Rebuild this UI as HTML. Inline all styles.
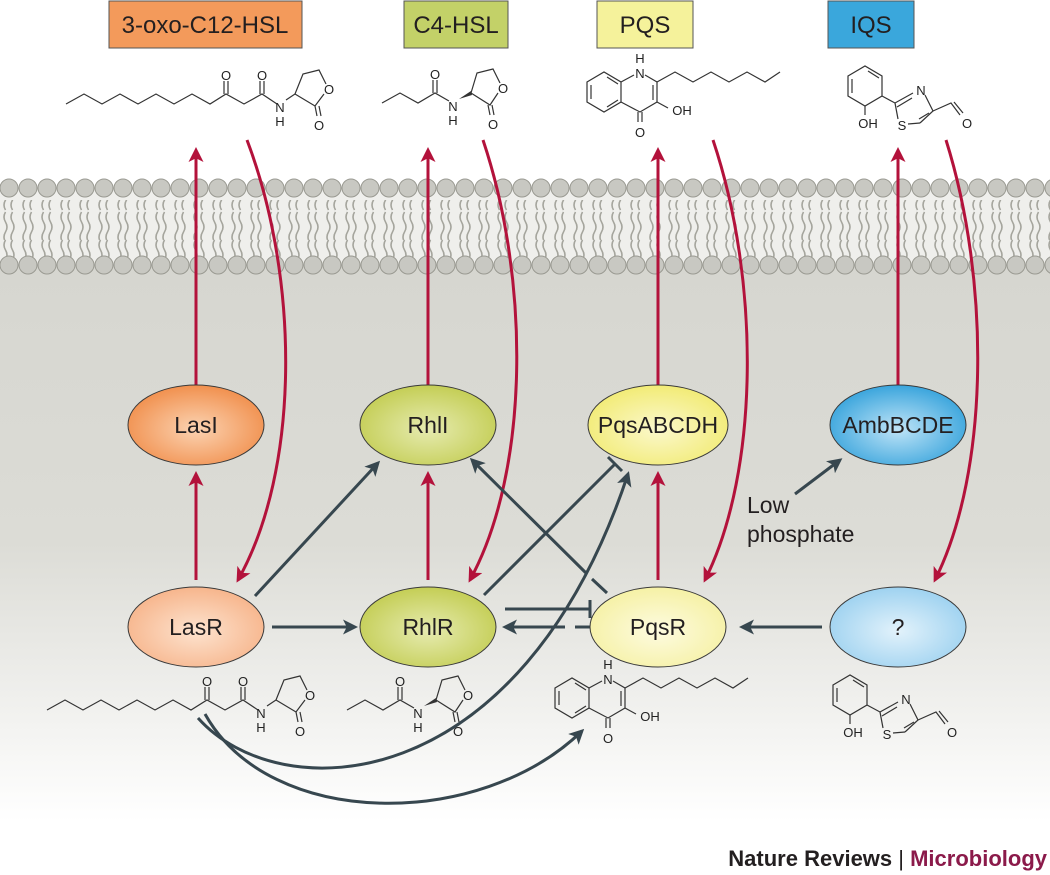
<!DOCTYPE html>
<html><head><meta charset="utf-8"><style>
html,body{margin:0;padding:0;background:#fff;}
svg{display:block;}
.lab{font-family:"Liberation Sans",sans-serif;font-size:23px;fill:#231f20;text-anchor:middle;}
.at{font-family:"Liberation Sans",sans-serif;font-size:13px;fill:#222;text-anchor:middle;}
.b{fill:none;stroke:#333;stroke-width:1.2;}
</style></head><body>
<svg width="1050" height="875" viewBox="0 0 1050 875" xmlns="http://www.w3.org/2000/svg">
<defs>
<linearGradient id="bg" x1="0" y1="0" x2="0" y2="1">
<stop offset="0" stop-color="#d6d6d0"/><stop offset="0.5" stop-color="#dcdcd6"/><stop offset="1" stop-color="#ffffff"/>
</linearGradient>
<radialGradient id="gO" cx="0.5" cy="0.55" r="0.6"><stop offset="0" stop-color="#fbd3b2"/><stop offset="1" stop-color="#f08a45"/></radialGradient>
<radialGradient id="gO2" cx="0.5" cy="0.55" r="0.6"><stop offset="0" stop-color="#fde3cf"/><stop offset="1" stop-color="#f6b186"/></radialGradient>
<radialGradient id="gG" cx="0.5" cy="0.55" r="0.6"><stop offset="0" stop-color="#e6ebb0"/><stop offset="1" stop-color="#c1cb4d"/></radialGradient>
<radialGradient id="gY" cx="0.5" cy="0.55" r="0.6"><stop offset="0" stop-color="#fbf8cc"/><stop offset="1" stop-color="#f1ea6e"/></radialGradient>
<radialGradient id="gY2" cx="0.5" cy="0.55" r="0.6"><stop offset="0" stop-color="#fdfbe0"/><stop offset="1" stop-color="#f5f0a0"/></radialGradient>
<radialGradient id="gB" cx="0.5" cy="0.55" r="0.6"><stop offset="0" stop-color="#bfe4f7"/><stop offset="1" stop-color="#2e9fda"/></radialGradient>
<radialGradient id="gB2" cx="0.5" cy="0.55" r="0.6"><stop offset="0" stop-color="#e2f2fb"/><stop offset="1" stop-color="#98cfef"/></radialGradient>
<marker id="mr" viewBox="0 0 10 10" refX="8" refY="5" markerWidth="5" markerHeight="5" orient="auto" markerUnits="strokeWidth"><path d="M0,0 L10,5 L0,10 L2.5,5z" fill="#b3123b"/></marker>
<marker id="md" viewBox="0 0 10 10" refX="8" refY="5" markerWidth="5" markerHeight="5" orient="auto" markerUnits="strokeWidth"><path d="M0,0 L10,5 L0,10 L2.5,5z" fill="#37474f"/></marker>
<pattern id="heads" x="-0.5" y="0" width="19" height="100" patternUnits="userSpaceOnUse">
<circle cx="9.5" cy="10" r="9" fill="#c8c8c2" stroke="#9a9a92" stroke-width="1"/>
</pattern>
<pattern id="tails" x="-0.5" y="0" width="19" height="60" patternUnits="userSpaceOnUse">
<path d="M6,0 q-3,5 0,10 t0,10 t0,10 M13,0 q-3,5 0,10 t0,10 t0,10 M6,32 q-3,5 0,10 t0,10 t0,10 M13,32 q-3,5 0,10 t0,10 t0,10" fill="none" stroke="#a5a59d" stroke-width="1.6"/>
</pattern>
</defs>
<rect x="0" y="0" width="1050" height="875" fill="#fff"/>
<rect x="0" y="262" width="1050" height="560" fill="url(#bg)"/>
<rect x="0" y="188" width="1050" height="77" fill="#efefec"/>
<rect x="0" y="200" width="1050" height="60" fill="url(#tails)" transform="translate(0,0)"/>
<g transform="translate(0,178)"><rect x="0" y="0" width="1050" height="20" fill="url(#heads)"/></g>
<g transform="translate(0,255)"><rect x="0" y="0" width="1050" height="20" fill="url(#heads)"/></g>

<!-- label boxes -->
<rect x="109" y="1" width="193" height="47" fill="#f39a5b" stroke="#555" stroke-width="1"/>
<text class="lab" x="205" y="33" style="font-size:24px">3-oxo-C12-HSL</text>
<rect x="404" y="1" width="104" height="47" fill="#c3d168" stroke="#555" stroke-width="1"/>
<text class="lab" x="456" y="33" style="font-size:24px">C4-HSL</text>
<rect x="597" y="1" width="96" height="47" fill="#f5f29b" stroke="#555" stroke-width="1"/>
<text class="lab" x="645" y="33" style="font-size:24px">PQS</text>
<rect x="828" y="1" width="86" height="47" fill="#3aa7dc" stroke="#555" stroke-width="1"/>
<text class="lab" x="871" y="33" style="font-size:24px">IQS</text>

<!-- molecule templates (bottom positions), top copies translated -->
<g id="m1b">
<polyline class="b" points="47,710 65,700 83,710 101,700 119,710 137,700 155,710 173,700 191,710 207,700 225,710 243,700 258,710"/>
<line class="b" x1="205" y1="700" x2="205" y2="687"/><line class="b" x1="209" y1="700" x2="209" y2="687"/>
<line class="b" x1="241" y1="700" x2="241" y2="687"/><line class="b" x1="245" y1="700" x2="245" y2="687"/>
<text class="at" x="207" y="686">O</text><text class="at" x="243" y="686">O</text>
<text class="at" x="261" y="718">N</text><text class="at" x="261" y="732">H</text>
<polyline class="b" points="267,706 276,700 284,680 300,676 307,690"/>
<polyline class="b" points="276,700 296,712 305,700"/>
<line class="b" x1="296" y1="712" x2="298" y2="722"/><line class="b" x1="300" y1="712" x2="302" y2="722"/>
<text class="at" x="310" y="700">O</text><text class="at" x="300" y="736">O</text>
</g>
<g transform="translate(19,-606)">
<polyline class="b" points="47,710 65,700 83,710 101,700 119,710 137,700 155,710 173,700 191,710 207,700 225,710 243,700 258,710"/>
<line class="b" x1="205" y1="700" x2="205" y2="687"/><line class="b" x1="209" y1="700" x2="209" y2="687"/>
<line class="b" x1="241" y1="700" x2="241" y2="687"/><line class="b" x1="245" y1="700" x2="245" y2="687"/>
<text class="at" x="207" y="686">O</text><text class="at" x="243" y="686">O</text>
<text class="at" x="261" y="718">N</text><text class="at" x="261" y="732">H</text>
<polyline class="b" points="267,706 276,700 284,680 300,676 307,690"/>
<polyline class="b" points="276,700 296,712 305,700"/>
<line class="b" x1="296" y1="712" x2="298" y2="722"/><line class="b" x1="300" y1="712" x2="302" y2="722"/>
<text class="at" x="310" y="700">O</text><text class="at" x="300" y="736">O</text>
</g>
<g>
<polyline class="b" points="347,710 365,700 383,710 400,700 414,708"/>
<line class="b" x1="398" y1="700" x2="398" y2="687"/><line class="b" x1="402" y1="700" x2="402" y2="687"/>
<text class="at" x="400" y="686">O</text><text class="at" x="418" y="718">N</text><text class="at" x="418" y="732">H</text>
<path d="M424,706 L436,698 L437,702z" fill="#333"/>
<polyline class="b" points="436,700 442,680 458,676 465,690"/><polyline class="b" points="436,700 455,712 463,700"/>
<line class="b" x1="453" y1="712" x2="455" y2="722"/><line class="b" x1="457" y1="712" x2="459" y2="722"/>
<text class="at" x="468" y="700">O</text><text class="at" x="458" y="736">O</text>
</g>
<g transform="translate(35,-607)">
<polyline class="b" points="347,710 365,700 383,710 400,700 414,708"/>
<line class="b" x1="398" y1="700" x2="398" y2="687"/><line class="b" x1="402" y1="700" x2="402" y2="687"/>
<text class="at" x="400" y="686">O</text><text class="at" x="418" y="718">N</text><text class="at" x="418" y="732">H</text>
<path d="M424,706 L436,698 L437,702z" fill="#333"/>
<polyline class="b" points="436,700 442,680 458,676 465,690"/><polyline class="b" points="436,700 455,712 463,700"/>
<line class="b" x1="453" y1="712" x2="455" y2="722"/><line class="b" x1="457" y1="712" x2="459" y2="722"/>
<text class="at" x="468" y="700">O</text><text class="at" x="458" y="736">O</text>
</g>
<!-- PQS -->
<g id="pqs">
<polygon class="b" points="555,688 572,678 589,688 589,708 572,718 555,708"/>
<line class="b" x1="559" y1="691" x2="559" y2="705"/><line class="b" x1="575" y1="683" x2="586" y2="690"/><line class="b" x1="575" y1="713" x2="586" y2="706"/>
<polyline class="b" points="589,688 602,681"/><polyline class="b" points="613,681 625,688 625,708 608,718 589,708"/>
<line class="b" x1="621" y1="691" x2="621" y2="706"/>
<line class="b" x1="606" y1="718" x2="606" y2="728"/><line class="b" x1="610" y1="718" x2="610" y2="728"/>
<line class="b" x1="625" y1="708" x2="636" y2="714"/>
<text class="at" x="608" y="684">N</text><text class="at" x="608" y="669">H</text>
<text class="at" x="650" y="721">OH</text><text class="at" x="608" y="743">O</text>
<polyline class="b" points="625,688 643,678 661,688 679,678 697,688 715,678 733,688 748,678"/>
</g>
<g transform="translate(32,-606)">
<polygon class="b" points="555,688 572,678 589,688 589,708 572,718 555,708"/>
<line class="b" x1="559" y1="691" x2="559" y2="705"/><line class="b" x1="575" y1="683" x2="586" y2="690"/><line class="b" x1="575" y1="713" x2="586" y2="706"/>
<polyline class="b" points="589,688 602,681"/><polyline class="b" points="613,681 625,688 625,708 608,718 589,708"/>
<line class="b" x1="621" y1="691" x2="621" y2="706"/>
<line class="b" x1="606" y1="718" x2="606" y2="728"/><line class="b" x1="610" y1="718" x2="610" y2="728"/>
<line class="b" x1="625" y1="708" x2="636" y2="714"/>
<text class="at" x="608" y="684">N</text><text class="at" x="608" y="669">H</text>
<text class="at" x="650" y="721">OH</text><text class="at" x="608" y="743">O</text>
<polyline class="b" points="625,688 643,678 661,688 679,678 697,688 715,678 733,688 748,678"/>
</g>
<!-- IQS -->
<g>
<polygon class="b" points="833,685 850,675 867,685 867,705 850,715 833,705"/>
<line class="b" x1="837" y1="688" x2="837" y2="702"/><line class="b" x1="853" y1="680" x2="864" y2="687"/>
<line class="b" x1="850" y1="715" x2="850" y2="724"/><text class="at" x="853" y="737">OH</text>
<polyline class="b" points="867,705 880,712 898,702"/><line class="b" x1="882" y1="716" x2="897" y2="707"/>
<text class="at" x="906" y="704">N</text>
<polyline class="b" points="910,704 918,720 905,732"/><line class="b" x1="914" y1="722" x2="904" y2="728"/>
<polyline class="b" points="880,712 883,728"/><text class="at" x="887" y="739">S</text><line class="b" x1="893" y1="733" x2="905" y2="732"/>
<polyline class="b" points="918,720 936,712 945,724"/><line class="b" x1="939" y1="711" x2="948" y2="722"/>
<text class="at" x="952" y="737">O</text>
</g>
<g transform="translate(15,-609)">
<polygon class="b" points="833,685 850,675 867,685 867,705 850,715 833,705"/>
<line class="b" x1="837" y1="688" x2="837" y2="702"/><line class="b" x1="853" y1="680" x2="864" y2="687"/>
<line class="b" x1="850" y1="715" x2="850" y2="724"/><text class="at" x="853" y="737">OH</text>
<polyline class="b" points="867,705 880,712 898,702"/><line class="b" x1="882" y1="716" x2="897" y2="707"/>
<text class="at" x="906" y="704">N</text>
<polyline class="b" points="910,704 918,720 905,732"/><line class="b" x1="914" y1="722" x2="904" y2="728"/>
<polyline class="b" points="880,712 883,728"/><text class="at" x="887" y="739">S</text><line class="b" x1="893" y1="733" x2="905" y2="732"/>
<polyline class="b" points="918,720 936,712 945,724"/><line class="b" x1="939" y1="711" x2="948" y2="722"/>
<text class="at" x="952" y="737">O</text>
</g>

<!-- red arrows -->
<g fill="none" stroke="#b3123b" stroke-width="3" marker-end="url(#mr)">
<line x1="196" y1="385" x2="196" y2="150"/>
<line x1="428" y1="385" x2="428" y2="150"/>
<line x1="658" y1="385" x2="658" y2="150"/>
<line x1="898" y1="385" x2="898" y2="150"/>
<line x1="196" y1="580" x2="196" y2="474"/>
<line x1="428" y1="580" x2="428" y2="474"/>
<line x1="658" y1="580" x2="658" y2="474"/>
<path d="M247,140 C300,280 300,470 238,580"/>
<path d="M483,140 C530,280 530,470 470,580"/>
<path d="M713,140 C760,280 760,470 705,580"/>
<path d="M946,140 C990,280 990,470 935,580"/>
</g>

<!-- dark arrows -->
<g fill="none" stroke="#37474f" stroke-width="3">
<line x1="255" y1="596" x2="378" y2="463" marker-end="url(#md)"/>
<line x1="272" y1="627" x2="355" y2="627" marker-end="url(#md)"/>
<line x1="484" y1="595" x2="615" y2="464"/>
<line x1="608" y1="457" x2="622" y2="471"/>
<path d="M607,593 L592,579 M586,573 L472,460" marker-end="url(#md)"/>
<line x1="505" y1="609" x2="590" y2="609"/>
<line x1="590" y1="600" x2="590" y2="618"/>
<path d="M590,627 L575,627 M565,627 L505,627" marker-end="url(#md)"/>
<line x1="822" y1="627" x2="742" y2="627" marker-end="url(#md)"/>
<line x1="795" y1="494" x2="840" y2="460" marker-end="url(#md)"/>
<path d="M198,718 C280,810 520,800 628,474" marker-end="url(#md)"/>
<path d="M205,714 C270,830 480,830 582,731" marker-end="url(#md)"/>
</g>

<!-- ellipses -->
<g stroke="#3a3a3a" stroke-width="1">
<ellipse cx="196" cy="425" rx="68" ry="40" fill="url(#gO)"/>
<ellipse cx="428" cy="425" rx="68" ry="40" fill="url(#gG)"/>
<ellipse cx="658" cy="425" rx="70" ry="40" fill="url(#gY)"/>
<ellipse cx="898" cy="425" rx="68" ry="40" fill="url(#gB)"/>
<ellipse cx="196" cy="627" rx="68" ry="40" fill="url(#gO2)"/>
<ellipse cx="428" cy="627" rx="68" ry="40" fill="url(#gG)"/>
<ellipse cx="658" cy="627" rx="68" ry="40" fill="url(#gY2)"/>
<ellipse cx="898" cy="627" rx="68" ry="40" fill="url(#gB2)"/>
</g>
<text class="lab" x="196" y="433">LasI</text>
<text class="lab" x="428" y="433">RhlI</text>
<text class="lab" x="658" y="433">PqsABCDH</text>
<text class="lab" x="898" y="433">AmbBCDE</text>
<text class="lab" x="196" y="635">LasR</text>
<text class="lab" x="428" y="635">RhlR</text>
<text class="lab" x="658" y="635">PqsR</text>
<text class="lab" x="898" y="635">?</text>
<text class="lab" x="747" y="513" style="text-anchor:start">Low</text>
<text class="lab" x="747" y="542" style="text-anchor:start">phosphate</text>

<text x="1047" y="866" style="font-family:'Liberation Sans',sans-serif;font-size:22px;font-weight:bold;text-anchor:end"><tspan fill="#231f20">Nature Reviews</tspan><tspan fill="#231f20" font-weight="normal"> | </tspan><tspan fill="#8b1a4a">Microbiology</tspan></text>
</svg>
</body></html>
